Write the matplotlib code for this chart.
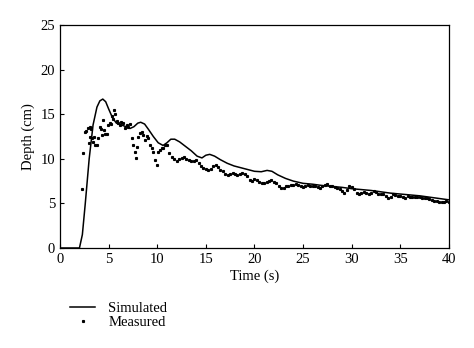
import matplotlib.pyplot as plt
import numpy as np

plt.rcParams['font.family'] = ['Liberation Serif', 'DejaVu Serif']

# simulated depth (cm) vs time (s)
sim_t = [0, 2.0, 2.3, 2.6, 3.0, 3.4, 3.8, 4.1, 4.4, 4.7, 5.0, 5.4, 5.8, 6.3, 6.8, 7.2,
         7.6, 8.0, 8.3, 8.7, 9.1, 9.6, 10.1, 10.6, 11.0, 11.4, 11.8, 12.3, 12.9, 13.5,
         14.1, 14.6, 15.0, 15.4, 15.9, 16.5, 17.2, 17.9, 18.6, 19.3, 20.0, 20.7, 21.3,
         21.8, 22.4, 23.2, 24.0, 25.0, 26.0, 27.0, 28.0, 29.0, 30.0, 31.0, 32.0, 33.0,
         34.0, 35.0, 36.0, 37.0, 38.0, 39.0, 40.0]
sim_d = [0, 0, 1.5, 5.0, 10.0, 13.8, 15.8, 16.5, 16.7, 16.4, 15.6, 14.6, 14.0, 13.8, 13.6, 13.4,
         13.6, 14.0, 14.1, 13.9, 13.3, 12.5, 11.8, 11.5, 11.8, 12.2, 12.2, 11.9, 11.4, 10.9,
         10.3, 10.1, 10.4, 10.5, 10.3, 9.9, 9.5, 9.2, 9.0, 8.8, 8.6, 8.55, 8.7,
         8.6, 8.2, 7.8, 7.5, 7.25, 7.15, 7.0, 6.9, 6.8, 6.65, 6.55, 6.45, 6.3,
         6.15, 6.05, 5.95, 5.85, 5.7, 5.55, 5.4]

# measured points, early scattered part
meas_t_early = [2.3, 2.4, 2.57, 2.7, 2.85, 3.0, 3.09, 3.09, 3.2, 3.26, 3.43, 3.5, 3.6, 3.8, 3.94,
                4.1, 4.2, 4.29, 4.46, 4.55, 4.63, 4.8, 4.97, 5.1, 5.2, 5.35, 5.49, 5.59, 5.7,
                5.83, 6.0, 6.17, 6.3, 6.5, 6.69, 6.85, 7.03, 7.2, 7.37, 7.54, 7.7, 7.78,
                7.9, 8.05, 8.23, 8.4, 8.57, 8.74, 8.9, 9.09, 9.26, 9.45, 9.6, 9.77, 9.95,
                10.1, 10.3, 10.46, 10.6, 10.8]
meas_d_early = [6.6, 10.7, 13.0, 13.1, 13.4, 11.8, 13.6, 12.5, 13.3, 12.3, 11.9, 12.4, 11.5, 11.6, 12.3,
                13.6, 13.3, 12.7, 14.35, 13.2, 12.8, 12.8, 13.8, 14.0, 13.9, 14.8, 14.5, 15.5, 15.0,
                14.2, 14.0, 13.8, 14.1, 14.0, 13.4, 13.8, 13.6, 13.9, 12.3, 11.5, 10.8, 10.05,
                11.3, 12.4, 12.9, 13.0, 12.7, 12.1, 12.6, 12.3, 11.5, 11.2, 10.8, 9.9, 9.3,
                10.8, 11.0, 11.2, 11.2, 11.5]

# measured points, dense part sampled every 0.25 s from 11 s to 40 s
meas_d_late = [11.5, 10.6, 10.2, 10.0, 9.7, 10.0, 10.1, 10.2, 10.0, 9.9, 9.7, 9.8, 9.9, 9.5,
               9.2, 9.0, 8.9, 8.8, 8.9, 9.2, 9.3, 9.1, 8.8, 8.6, 8.3, 8.2, 8.3, 8.4,
               8.3, 8.2, 8.3, 8.4, 8.3, 8.1, 7.6, 7.5, 7.7, 7.6, 7.4, 7.25, 7.3, 7.4,
               7.5, 7.6, 7.4, 7.25, 7.0, 6.7, 6.7, 7.0, 6.9, 7.05, 7.1, 7.2, 7.1, 6.9,
               6.8, 6.9, 7.05, 7.0, 6.95, 6.9, 6.8, 6.7, 6.9, 7.1, 7.2, 7.0, 6.9, 6.8,
               6.7, 6.6, 6.4, 6.15, 6.5, 6.9, 6.8, 6.6, 6.2, 6.1, 6.2, 6.3, 6.2, 6.1,
               6.2, 6.4, 6.3, 6.1, 6.1, 6.0, 5.8, 5.65, 5.7, 6.0, 5.95, 5.85, 5.8, 5.7,
               5.65, 5.8, 5.75, 5.7, 5.7, 5.75, 5.7, 5.6, 5.6, 5.55, 5.5, 5.4, 5.3, 5.25,
               5.2, 5.2, 5.2, 5.25, 5.2]
meas_t_late = np.arange(len(meas_d_late)) * 0.25 + 11.0

meas_t = list(meas_t_early) + list(meas_t_late)
meas_d = list(meas_d_early) + list(meas_d_late)

fig = plt.figure(figsize=(4.74, 3.48), dpi=100)
ax = fig.add_axes([0.1266, 0.2874, 0.8204, 0.6406])

l1, = ax.plot(sim_t, sim_d, color='black', lw=1.1, label='Simulated')
l2, = ax.plot(meas_t, meas_d, linestyle='none', marker='s', markersize=1.25,
              color='black', label='Measured')

ax.set_xlim(0, 40)
ax.set_ylim(0, 25)
ax.set_xticks(range(0, 41, 5))
ax.set_yticks(range(0, 26, 5))
ax.tick_params(direction='in', length=3, labelsize=10.5, width=0.8)
ax.set_xlabel('Time (s)', fontsize=10.5, labelpad=3)
ax.set_ylabel('Depth (cm)', fontsize=10.5, labelpad=4)
for s in ax.spines.values():
    s.set_linewidth(0.9)

fig.legend(handles=[l1, l2], loc='upper left', bbox_to_anchor=(0.136, 0.15),
           frameon=False, fontsize=10.5, handlelength=1.7, handletextpad=0.9,
           labelspacing=0.05, borderaxespad=0, markerscale=1.0)

fig.savefig('out.png', dpi=100)
